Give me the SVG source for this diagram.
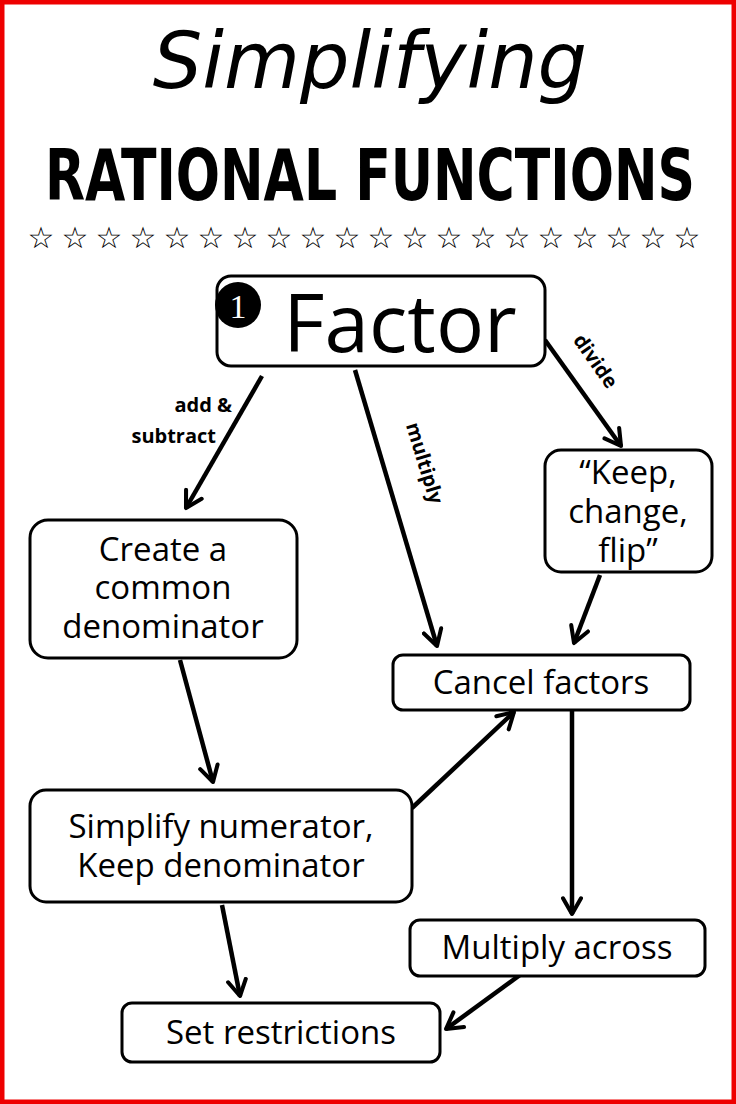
<svg xmlns="http://www.w3.org/2000/svg" width="736" height="1104" viewBox="0 0 736 1104">
<style>
.box{fill:#fff;stroke:#000;stroke-width:3}
.t{font-family:"Open Sans","DejaVu Sans",sans-serif;font-size:33px;text-anchor:middle;fill:#000}
.big{font-size:80px}
.lbl{font-family:"Open Sans","DejaVu Sans",sans-serif;font-weight:bold;font-size:20px;fill:#000}
.c{stroke:#000;stroke-width:4.5;fill:none;marker-end:url(#a)}
.star{font-family:"DejaVu Sans",sans-serif;font-size:30px;text-anchor:middle;fill:#000}
</style>
<defs>
<marker id="a" viewBox="0 0 10 10" refX="8" refY="5" markerWidth="5" markerHeight="5" orient="auto" markerUnits="strokeWidth">
<polyline points="1,1 8,5 1,9" fill="none" stroke="#000" stroke-width="1.8" stroke-linecap="round" stroke-linejoin="round"/>
</marker>
</defs>
<rect x="0" y="0" width="736" height="1104" fill="#fff"/>
<rect x="2" y="2" width="732" height="1100" fill="none" stroke="#e00" stroke-width="5"/>
<text x="370" y="88" font-family="DejaVu Sans" font-style="italic" font-size="78" text-anchor="middle" fill="#000">Simplifying</text>
<text x="370" y="200" font-family="DejaVu Sans Condensed,DejaVu Sans" font-weight="bold" font-size="72" text-anchor="middle" textLength="650" lengthAdjust="spacingAndGlyphs" fill="#000">RATIONAL FUNCTIONS</text>
<g id="stars">
<text class="star" y="248"><tspan x="41">☆</tspan><tspan x="75">☆</tspan><tspan x="109">☆</tspan><tspan x="143">☆</tspan><tspan x="177">☆</tspan><tspan x="211">☆</tspan><tspan x="245">☆</tspan><tspan x="279">☆</tspan><tspan x="313">☆</tspan><tspan x="347">☆</tspan><tspan x="381">☆</tspan><tspan x="415">☆</tspan><tspan x="449">☆</tspan><tspan x="483">☆</tspan><tspan x="517">☆</tspan><tspan x="551">☆</tspan><tspan x="585">☆</tspan><tspan x="619">☆</tspan><tspan x="653">☆</tspan><tspan x="687">☆</tspan></text>
</g>
<g id="connectors">
<line class="c" x1="262" y1="376" x2="186" y2="508"/>
<line class="c" x1="355" y1="370" x2="437" y2="646"/>
<line class="c" x1="545" y1="340" x2="621" y2="446"/>
<line class="c" x1="600" y1="575" x2="574" y2="643"/>
<line class="c" x1="180" y1="660" x2="213" y2="782"/>
<line class="c" x1="412" y1="808" x2="514" y2="712"/>
<line class="c" x1="572" y1="710" x2="572" y2="914"/>
<line class="c" x1="222" y1="905" x2="240" y2="996"/>
<line class="c" x1="520" y1="975" x2="446" y2="1029"/>
<text class="lbl" text-anchor="end"><tspan x="232" y="412">add &amp;</tspan><tspan x="216" y="443">subtract</tspan></text>
<text class="lbl" text-anchor="middle" transform="translate(418,465) rotate(73)">multiply</text>
<text class="lbl" text-anchor="middle" transform="translate(590,365) rotate(55)">divide</text>
</g>
<g id="factor">
<rect class="box" x="217" y="276" width="328" height="90" rx="14"/>
<text class="t big" x="400" y="352">Factor</text>
<circle cx="238" cy="305" r="23" fill="#000"/>
<text x="238" y="318" font-family="Liberation Serif" font-size="34" text-anchor="middle" fill="#fff">1</text>
</g>
<g id="create">
<rect class="box" x="30" y="520" width="267" height="138" rx="18"/>
<text class="t" x="163" y="561">Create a</text>
<text class="t" x="163" y="599">common</text>
<text class="t" x="163" y="638">denominator</text>
</g>
<g id="keep">
<rect class="box" x="545" y="450" width="167" height="122" rx="16"/>
<text class="t" x="628" y="484">“Keep,</text>
<text class="t" x="628" y="523">change,</text>
<text class="t" x="628" y="562">flip”</text>
</g>
<g id="cancel">
<rect class="box" x="393" y="655" width="297" height="55" rx="10"/>
<text class="t" x="541" y="694">Cancel factors</text>
</g>
<g id="simplify">
<rect class="box" x="30" y="790" width="382" height="112" rx="16"/>
<text class="t" x="221" y="838">Simplify numerator,</text>
<text class="t" x="221" y="877">Keep denominator</text>
</g>
<g id="multiply">
<rect class="box" x="410" y="920" width="295" height="56" rx="10"/>
<text class="t" x="557" y="959">Multiply across</text>
</g>
<g id="set">
<rect class="box" x="122" y="1003" width="318" height="59" rx="10"/>
<text class="t" x="281" y="1044">Set restrictions</text>
</g>
</svg>
